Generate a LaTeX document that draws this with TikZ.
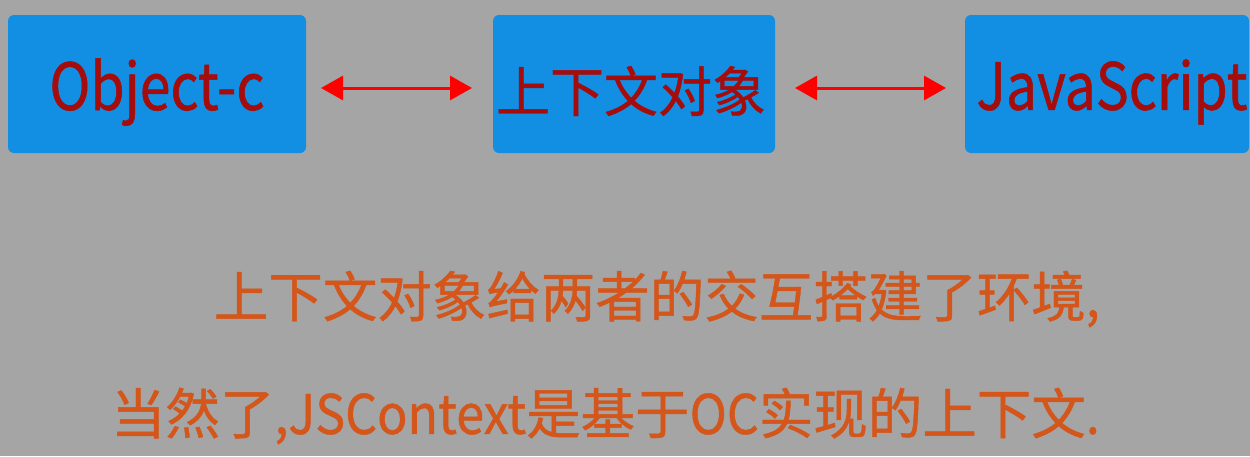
\documentclass[tikz,border=0pt]{standalone}
\usepackage{fontspec}
\setmainfont{Noto Sans CJK SC}
\newfontfamily\cjk[FakeBold=0.8]{Noto Sans CJK SC}
\newfontfamily\latinbox[FakeStretch=0.85,FakeBold=0.8]{Noto Sans CJK SC}
\newfontfamily\latinnote[FakeStretch=0.92,FakeBold=0.8]{Noto Sans CJK SC}
\usetikzlibrary{arrows.meta}
\definecolor{bg}{HTML}{A5A5A5}
\definecolor{boxblue}{HTML}{128EE3}
\definecolor{boxtext}{HTML}{A50D0D}
\definecolor{note}{HTML}{D4561A}
\begin{document}
\begin{tikzpicture}[x=1pt,y=-1pt,
  box/.style={fill=boxblue, rounded corners=6pt, inner sep=0pt},
  boxlabel/.style={text=boxtext, inner sep=0pt},
  link/.style={draw=red, line width=3pt, {Triangle[length=22pt,width=24pt]}-{Triangle[length=22pt,width=24pt]}},
  notetext/.style={text=note, font=\cjk\fontsize{54.5}{60}\selectfont, inner sep=0pt, anchor=east}]
\useasboundingbox[fill=bg] (0,0) rectangle (1250,456);
\node[box, minimum width=298pt, minimum height=138pt] (oc) at (157,84) {};
\node[box, minimum width=282pt, minimum height=138pt] (ctx) at (634,84) {};
\node[box, minimum width=284pt, minimum height=138pt] (js) at (1107,84) {};
\node[boxlabel, font=\latinbox\fontsize{65}{70}\selectfont] (octext) at (157,92) {Object-c};
\node[boxlabel, font=\cjk\fontsize{54}{60}\selectfont] (ctxtext) at (631,91) {上下文对象};
\node[boxlabel, font=\latinbox\fontsize{65}{70}\selectfont] (jstext) at (1112,92) {JavaScript};
\coordinate (a1) at (321,88);
\coordinate (a2) at (472,88);
\coordinate (b1) at (795,88);
\coordinate (b2) at (946,88);
\draw[link] (a1) -- (a2);
\draw[link] (b1) -- (b2);
\node[notetext] (line1) at (1100,299) {上下文对象给两者的交互搭建了环境{\latinnote,}};
\node[notetext] (line2) at (1100,416) {当然了{\latinnote,JSContext}是基于{\latinnote OC}实现的上下文{\latinnote.}};
\end{tikzpicture}
\end{document}
